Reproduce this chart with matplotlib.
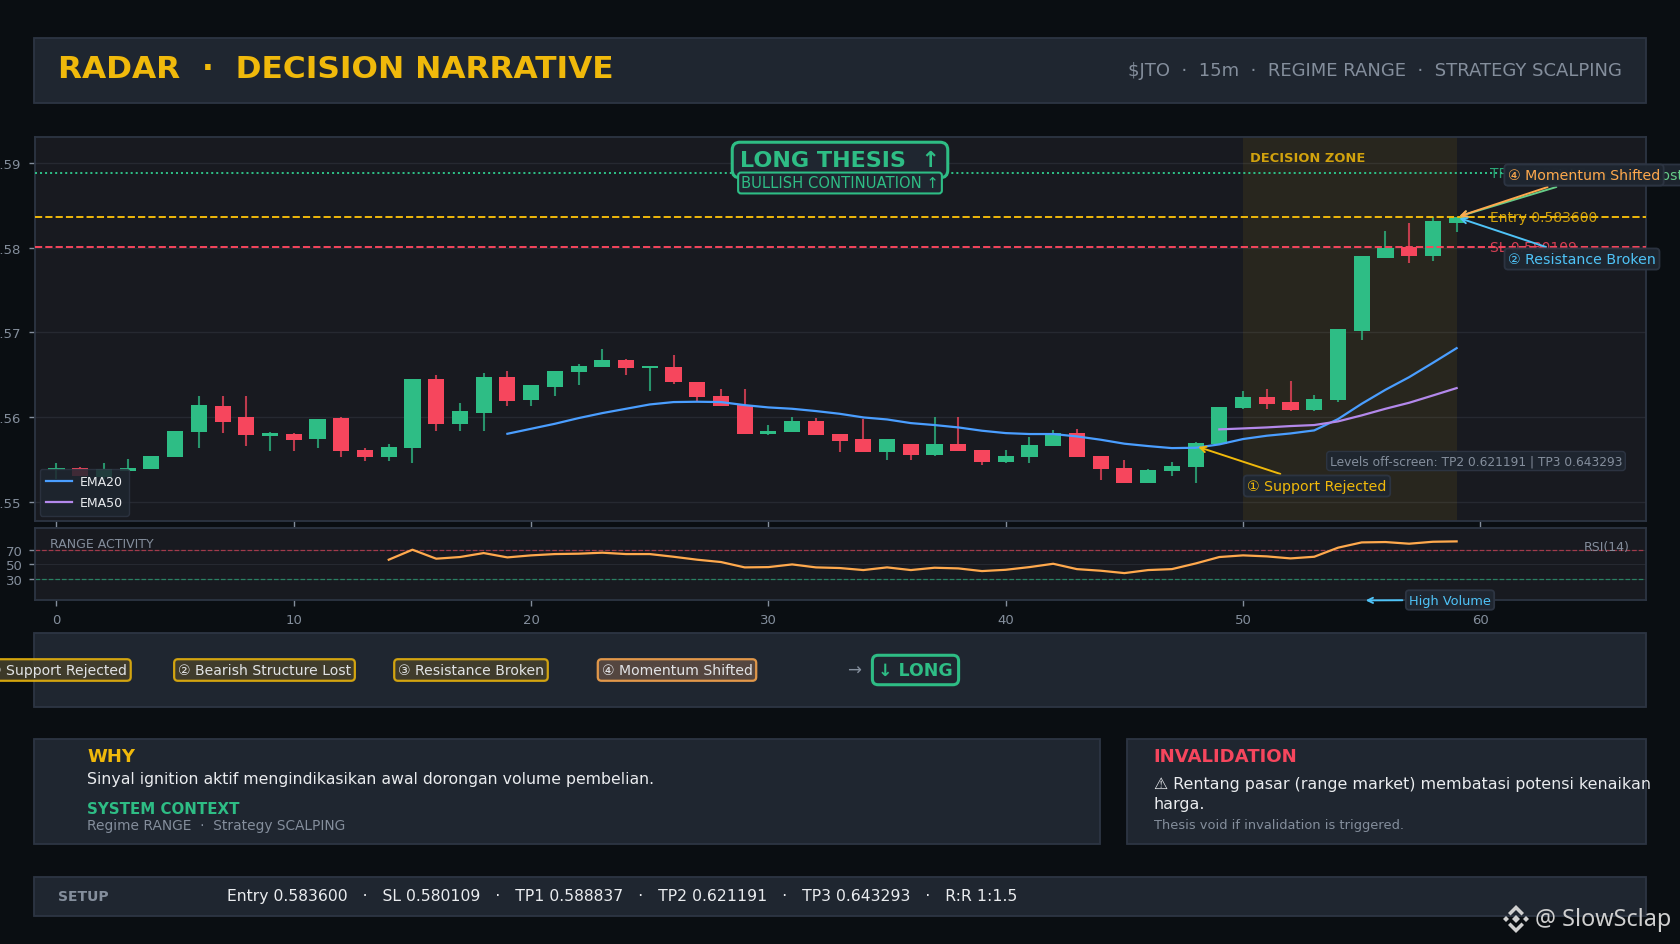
import matplotlib
matplotlib.use('Agg')
import matplotlib.pyplot as plt
from matplotlib.patches import Rectangle, Polygon
import numpy as np

# candles
opens = [.55377, .55401, .55295, .55361, .55385, .55526, .55821, .56131, .56006, .55774,
         .55805, .55739, .55994, .55617, .55526, .55633, .56454, .55915, .56053, .56477,
         .56198, .56359, .56528, .56587, .56678, .56576, .56595, .56418, .56253, .56147,
         .55798, .55821, .55959, .55805, .55747, .55585, .55688, .55550, .55688, .55617,
         .55468, .55526, .55656, .55817, .55546, .55405, .55220, .55361, .55409, .55680,
         .56104, .56242, .56183, .56088, .56198, .57023, .57884, .58010, .57907, .58296]
closes = [.55401, .55303, .55385, .55401, .55546, .55841, .56147, .55947, .55786, .55817,
          .55735, .55982, .55597, .55526, .55652, .56454, .55915, .56077, .56477, .56187,
          .56383, .56548, .56607, .56678, .56576, .56603, .56418, .56234, .56128, .55798,
          .55841, .55959, .55786, .55723, .55585, .55747, .55550, .55688, .55597, .55468,
          .55546, .55676, .55817, .55526, .55385, .55220, .55381, .55428, .55699, .56124,
          .56242, .56159, .56088, .56218, .57043, .57904, .57998, .57904, .58316, .58367]
highs = [.55460, .55416, .55460, .55511, .55546, .55841, .56253, .56253, .56253, .55829,
         .55817, .55982, .56006, .55640, .55688, .56454, .56501, .56171, .56524, .56548,
         .56383, .56548, .56630, .56807, .56689, .56603, .56737, .56418, .56336, .56336,
         .55911, .56006, .55994, .55805, .55982, .55747, .55688, .56006, .56006, .55617,
         .55617, .55770, .55853, .55864, .55546, .55499, .55393, .55475, .55711, .56124,
         .56312, .56336, .56430, .56265, .57043, .57904, .58198, .58292, .58363, .58367]
lows = [.55275, .55303, .55275, .55361, .55385, .55526, .55633, .55809, .55656, .55597,
        .55597, .55633, .55526, .55479, .55479, .55456, .55833, .55833, .55833, .56128,
        .56128, .56245, .56375, .56587, .56493, .56304, .56395, .56194, .56128, .55798,
        .55786, .55821, .55786, .55585, .55585, .55491, .55491, .55538, .55597, .55432,
        .55456, .55456, .55656, .55526, .55255, .55220, .55220, .55303, .55220, .55680,
        .56092, .56092, .56077, .56077, .56183, .56906, .57884, .57825, .57848, .58190]

ema20_x = list(range(19, 60))
ema20 = [.55805, .55864, .55923, .55990, .56049, .56100, .56151, .56179, .56183, .56179,
         .56143, .56116, .56100, .56073, .56041, .55998, .55974, .55931, .55908, .55880,
         .55841, .55813, .55802, .55802, .55774, .55735, .55688, .55660, .55636, .55640,
         .55680, .55743, .55782, .55809, .55845, .55978, .56159, .56324, .56473, .56642, .56815]
ema50_x = list(range(49, 60))
ema50 = [.55857, .55868, .55880, .55896, .55908, .55951, .56022, .56100, .56171, .56257, .56344]

rsi_x = list(range(14, 60))
rsi = [56.2, 70, 57.6, 59.9, 65.4, 59.4, 62.2, 64, 64.5, 65.9, 64, 64, 60.3, 56.2, 53, 45.6,
       46, 49.7, 45.6, 44.7, 41.9, 45.6, 41.9, 45.1, 44.2, 40.5, 42.3, 46, 50.6, 43.2, 41,
       37.7, 41.9, 43.2, 51, 59.9, 62.2, 60.8, 58, 60.3, 72.8, 80.1, 80.6, 78.3, 81, 81.5]

tp1 = 0.588837
entry = 0.583600
sl = 0.580109
price_ticks = [0.55, 0.56, 0.57, 0.58, 0.59]
rsi_ticks = [30, 50, 70]
x_ticks = [0, 10, 20, 30, 40, 50, 60]
setup_items = ['Entry 0.583600', 'SL 0.580109', 'TP1 0.588837', 'TP2 0.621191', 'TP3 0.643293', 'R:R 1:1.5']

BG = '#0a0e12'
AX_BG = '#181a20'
PANEL = '#1f2630'
EDGE = '#2d3543'
GRID = '#262931'
MUTED = '#848e9c'
LIGHT = '#eaecef'
YELLOW = '#f0b90b'
GREEN = '#2ebd85'
RED = '#f6465d'
ORANGE = '#ffa94d'
SKY = '#4fc3f7'
BLUE = '#4a9eff'
PURPLE = '#b388eb'
LIME = '#66cc88'

W, H = 1680, 945
fig = plt.figure(figsize=(16.8, 9.45), dpi=100, facecolor=BG)


def px_axes(x0, y0, x1, y1, **kw):
    # axes from pixel box, y measured from the top
    return fig.add_axes([x0 / W, 1 - y1 / H, (x1 - x0) / W, (y1 - y0) / H], **kw)


bg = px_axes(0, 0, W, H, zorder=0)
bg.set_xlim(0, W)
bg.set_ylim(H, 0)
bg.axis('off')

top = px_axes(0, 0, W, H, zorder=5)
top.set_xlim(0, W)
top.set_ylim(H, 0)
top.axis('off')
top.patch.set_alpha(0)

# panels
for (x0, y0, x1, y1) in [(34, 38.5, 1646, 104), (34, 634, 1646, 708), (34, 740, 1100, 845),
                         (1127, 740, 1646, 845), (34, 878, 1646, 917)]:
    bg.add_patch(Rectangle((x0, y0), x1 - x0, y1 - y0, facecolor=PANEL, edgecolor=EDGE, lw=1.3))

# header
bg.text(58, 70, 'RADAR  ·  DECISION NARRATIVE', color=YELLOW, fontsize=22.5, fontweight='bold', va='center')
bg.text(1622, 71, '$JTO  ·  15m  ·  REGIME RANGE  ·  STRATEGY SCALPING', color=MUTED, fontsize=13,
        ha='right', va='center', parse_math=False)

# price chart
ax = px_axes(34.5, 138, 1646, 521.5, zorder=1, facecolor=AX_BG)
ax.set_xlim(-0.927, 66.98)
ax.set_ylim(0.54782, 0.59306)
for s in ax.spines.values():
    s.set_color(EDGE)
    s.set_linewidth(1.3)
ax.set_yticks(price_ticks)
ax.set_yticklabels(['%.2f' % t for t in price_ticks])
ax.set_xticks(x_ticks)
ax.set_xticklabels([])
ax.tick_params(colors=MUTED, labelsize=9.5, length=4.3, width=1, pad=4)
ax.tick_params(axis='y', pad=5.5)
ax.grid(axis='y', color=GRID, lw=1)
ax.set_axisbelow(True)

ax.axvspan(50, 59, color=YELLOW, alpha=0.08, lw=0, zorder=1)

for i in range(len(opens)):
    c = GREEN if closes[i] >= opens[i] else RED
    ax.vlines(i, lows[i], highs[i], color=c, lw=1.5, alpha=0.75, zorder=2)
    ax.bar(i, abs(closes[i] - opens[i]), bottom=min(opens[i], closes[i]), width=0.68, color=c, zorder=3)

ax.plot(ema20_x, ema20, color=BLUE, lw=1.6, label='EMA20', zorder=4)
ax.plot(ema50_x, ema50, color=PURPLE, lw=1.6, label='EMA50', zorder=4)

ax.text(60.4, tp1, 'TP1 0.588837', color=GREEN, fontsize=10, va='center', alpha=0.85, zorder=3.5)
ax.text(60.4, entry, 'Entry 0.583600', color=YELLOW, fontsize=10, va='center', alpha=0.85, zorder=3.5)
ax.text(60.4, sl, 'SL 0.580109', color=RED, fontsize=10, va='center', alpha=0.85, zorder=3.5)
ax.axhline(tp1, color=GREEN, lw=1.45, dashes=(1, 1.5), zorder=4)
ax.axhline(entry, color=YELLOW, ls='--', lw=1.4, zorder=4)
ax.axhline(sl, color=RED, ls='--', lw=1.4, zorder=4)

ax.text(50.3, 0.59065, 'DECISION ZONE', color=YELLOW, fontsize=9.4, fontweight='bold', va='center', alpha=0.85, zorder=5)

leg = ax.legend(loc='lower left', bbox_to_anchor=(0.0, 0.0), fontsize=9, frameon=True, facecolor=PANEL,
                edgecolor=EDGE, labelcolor=LIGHT, framealpha=0.85, borderpad=0.5, handlelength=2.1,
                labelspacing=0.65, handletextpad=0.6, borderaxespad=0.4)
leg.set_zorder(6)


def note(axis, text, x, y, px, py, color):
    axis.annotate(text, xy=(x, y), xycoords='data', xytext=(px, py), textcoords=top.transData,
                  color=color, fontsize=10.2, ha='center', va='center', zorder=7,
                  bbox=dict(boxstyle='round,pad=0.25', facecolor=PANEL, edgecolor=EDGE, lw=1.3, alpha=0.95),
                  arrowprops=dict(arrowstyle='->', color=color, lw=1.4))


note(ax, '① Support Rejected', 48, 0.5566, 1317, 487, YELLOW)
note(ax, '② Bearish Structure Lost', 59, entry, 1596, 176, LIME)
note(ax, '② Resistance Broken', 59, entry, 1582, 260, SKY)
note(ax, '④ Momentum Shifted', 59, entry, 1584, 176, ORANGE)

ax.text(1476, 462, 'Levels off-screen: TP2 0.621191 | TP3 0.643293', transform=top.transData, color=MUTED,
        fontsize=8.8, ha='center', va='center', zorder=6,
        bbox=dict(boxstyle='round,pad=0.25', facecolor=PANEL, edgecolor=EDGE, lw=1, alpha=0.95))

# rsi
ax2 = px_axes(34.5, 529, 1646, 601.4, zorder=2, facecolor=AX_BG)
ax2.set_xlim(-0.927, 66.98)
ax2.set_ylim(0, 100)
for s in ax2.spines.values():
    s.set_color(EDGE)
    s.set_linewidth(1.3)
ax2.set_yticks(rsi_ticks)
ax2.set_xticks(x_ticks)
ax2.tick_params(colors=MUTED, labelsize=9.5, length=4.3, width=1, pad=4)
ax2.tick_params(axis='x', pad=5)
ax2.grid(axis='y', color=GRID, lw=0.8)
ax2.set_axisbelow(True)
ax2.axhline(70, color=RED, ls='--', lw=0.9, alpha=0.6)
ax2.axhline(30, color=GREEN, ls='--', lw=0.9, alpha=0.6)
ax2.plot(rsi_x, rsi, color=ORANGE, lw=1.6)
ax2.text(50, 544, 'RANGE ACTIVITY', transform=top.transData, color=MUTED, fontsize=9, va='center')
ax2.text(1630, 548, 'RSI(14)', transform=top.transData, color=MUTED, fontsize=9, ha='right', va='center')
ax2.annotate('High Volume', xy=(55.05, 0), xycoords='data', xytext=(1450, 601), textcoords=top.transData,
             color=SKY, fontsize=9.3, ha='center', va='center', zorder=7,
             bbox=dict(boxstyle='round,pad=0.25', facecolor=PANEL, edgecolor=EDGE, lw=1.3),
             arrowprops=dict(arrowstyle='->', color=SKY, lw=1.4), annotation_clip=False)

# thesis badge
top.text(840, 161, 'LONG THESIS  ↑', color=GREEN, fontsize=16, fontweight='bold', ha='center', va='center',
         bbox=dict(boxstyle='round,pad=0.35', facecolor=PANEL, edgecolor=GREEN, lw=2.2))
top.text(840, 184, 'BULLISH CONTINUATION ↑', color=GREEN, fontsize=10.6, ha='center', va='center',
         bbox=dict(boxstyle='round,pad=0.2', facecolor=PANEL, edgecolor=GREEN, lw=1.5))

# narrative chain
for arrow_x in [239, 445, 650, 854]:
    bg.text(arrow_x, 671, '→', color=MUTED, fontsize=12, ha='center', va='center')

chips = [('① Support Rejected', 58, YELLOW, '#46412c'),
         ('② Bearish Structure Lost', 264.5, YELLOW, '#46412c'),
         ('③ Resistance Broken', 471, YELLOW, '#46412c'),
         ('④ Momentum Shifted', 677, ORANGE, '#5e4c43')]
for label, cx, edge, face in chips:
    bg.text(cx, 671, label, color=LIGHT, fontsize=10.1, ha='center', va='center', alpha=0.95,
            bbox=dict(boxstyle='round,pad=0.27', facecolor=face, edgecolor=edge, lw=1.6, alpha=0.85))
bg.text(915.5, 671, '↓ LONG', color=GREEN, fontsize=12.5, fontweight='bold', ha='center', va='center',
        bbox=dict(boxstyle='round,pad=0.33', facecolor=PANEL, edgecolor=GREEN, lw=2.2))

# why
bg.text(87, 757, 'WHY', color=YELLOW, fontsize=13, fontweight='bold', va='center')
bg.text(87, 779.5, 'Sinyal ignition aktif mengindikasikan awal dorongan volume pembelian.', color=LIGHT,
        fontsize=11.3, va='center')
bg.text(87, 809, 'SYSTEM CONTEXT', color=GREEN, fontsize=10.8, fontweight='bold', va='center')
bg.text(87, 826, 'Regime RANGE  ·  Strategy SCALPING', color=MUTED, fontsize=9.95, va='center')

# invalidation
bg.text(1153.5, 757, 'INVALIDATION', color=RED, fontsize=13.1, fontweight='bold', va='center')
bg.text(1153.5, 785, '⚠ Rentang pasar (range market) membatasi potensi kenaikan', color=LIGHT, fontsize=11.4, va='center')
bg.text(1153.5, 804.5, 'harga.', color=LIGHT, fontsize=11.4, va='center')
bg.text(1153.5, 826, 'Thesis void if invalidation is triggered.', color=MUTED, fontsize=9.35, va='center')

# setup
bg.text(58, 897, 'SETUP', color=MUTED, fontsize=10, fontweight='bold', va='center')
bg.text(227, 897, '   ·   '.join(setup_items), color=LIGHT, fontsize=11.24, va='center')

# watermark
WM = '#cfcfcf'
cx, cy = 1516, 920
top.add_patch(Polygon([(cx, cy - 4), (cx + 4, cy), (cx, cy + 4), (cx - 4, cy)], color=WM, lw=0))
for sx in (-1, 1):
    top.add_patch(Polygon([(cx + sx * 10, cy - 3), (cx + sx * 13, cy), (cx + sx * 10, cy + 3), (cx + sx * 7, cy)], color=WM, lw=0))
for sy in (-1, 1):
    top.add_patch(Polygon([(cx, cy + sy * 14), (cx + 8, cy + sy * 6), (cx + 5.5, cy + sy * 3.5), (cx, cy + sy * 9),
                           (cx - 5.5, cy + sy * 3.5), (cx - 8, cy + sy * 6)], color=WM, lw=0))
top.text(1535, 920, '@ SlowSclap', color=WM, fontsize=16.8, family='Noto Sans', va='center')

fig.savefig('out.png', dpi=100, facecolor=BG)
